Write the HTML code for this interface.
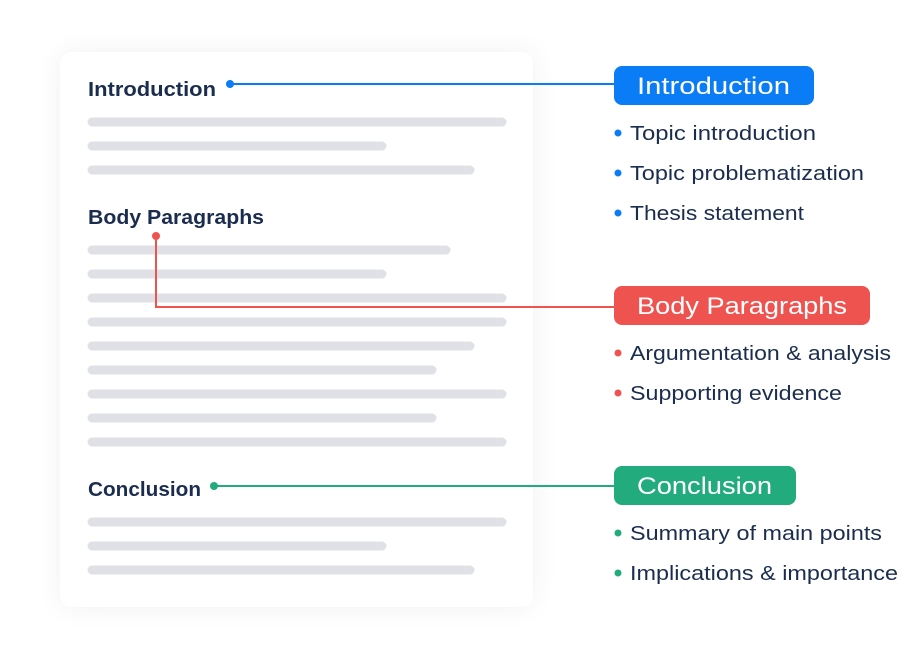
<!DOCTYPE html>
<html><head><style>
html,body{margin:0;padding:0;background:#fff;width:916px;height:656px;overflow:hidden}
svg{display:block}
text{font-family:"Liberation Sans",sans-serif}
</style></head><body>
<svg width="916" height="656" viewBox="0 0 916 656" xmlns="http://www.w3.org/2000/svg">
<defs>
<filter id="sh" x="-20%" y="-20%" width="140%" height="140%">
<feGaussianBlur in="SourceAlpha" stdDeviation="14"/>
<feComponentTransfer><feFuncA type="linear" slope="0.06"/></feComponentTransfer>
<feMerge><feMergeNode/><feMergeNode in="SourceGraphic"/></feMerge>
</filter>
</defs>
<rect x="60" y="52" width="473" height="555" rx="12" fill="#fff" filter="url(#sh)"/>
<g stroke="#dfe1e6" stroke-width="9" stroke-linecap="round">
<line x1="92" y1="122" x2="502" y2="122"/>
<line x1="92" y1="146" x2="382" y2="146"/>
<line x1="92" y1="170" x2="470" y2="170"/>
<line x1="92" y1="250" x2="446" y2="250"/>
<line x1="92" y1="274" x2="382" y2="274"/>
<line x1="92" y1="298" x2="502" y2="298"/>
<line x1="92" y1="322" x2="502" y2="322"/>
<line x1="92" y1="346" x2="470" y2="346"/>
<line x1="92" y1="370" x2="432" y2="370"/>
<line x1="92" y1="394" x2="502" y2="394"/>
<line x1="92" y1="418" x2="432" y2="418"/>
<line x1="92" y1="442" x2="502" y2="442"/>
<line x1="92" y1="522" x2="502" y2="522"/>
<line x1="92" y1="546" x2="382" y2="546"/>
<line x1="92" y1="570" x2="470" y2="570"/>
</g>
<g fill="#1b2d4f" font-size="20" font-weight="bold">
<text x="88" y="96" textLength="128" lengthAdjust="spacingAndGlyphs">Introduction</text>
<text x="88" y="224" textLength="176" lengthAdjust="spacingAndGlyphs">Body Paragraphs</text>
<text x="88" y="496" textLength="113" lengthAdjust="spacingAndGlyphs">Conclusion</text>
</g>
<line x1="230" y1="84" x2="614" y2="84" stroke="#0a7cf5" stroke-width="2"/>
<circle cx="230" cy="84" r="4" fill="#0a7cf5"/>
<polyline points="156,236 156,307 614,307" fill="none" stroke="#ef5350" stroke-width="2"/>
<circle cx="156" cy="236" r="4" fill="#ef5350"/>
<line x1="214" y1="486" x2="614" y2="486" stroke="#22ab7c" stroke-width="2"/>
<circle cx="214" cy="486" r="4" fill="#22ab7c"/>
<rect x="614" y="66" width="200" height="39" rx="8" fill="#0a7cf5"/>
<rect x="614" y="286" width="256" height="39" rx="8" fill="#ef5350"/>
<rect x="614" y="466" width="182" height="39" rx="8" fill="#22ab7c"/>
<g fill="#fff" font-size="24">
<text x="637" y="94" textLength="153" lengthAdjust="spacingAndGlyphs">Introduction</text>
<text x="637" y="314" textLength="210" lengthAdjust="spacingAndGlyphs">Body Paragraphs</text>
<text x="637" y="494" textLength="135" lengthAdjust="spacingAndGlyphs">Conclusion</text>
</g>
<g fill="#0a7cf5"><circle cx="618" cy="133" r="3.5"/><circle cx="618" cy="173" r="3.5"/><circle cx="618" cy="213" r="3.5"/></g>
<g fill="#ef5350"><circle cx="618" cy="353" r="3.5"/><circle cx="618" cy="393" r="3.5"/></g>
<g fill="#22ab7c"><circle cx="618" cy="533" r="3.5"/><circle cx="618" cy="573" r="3.5"/></g>
<g fill="#1b2d4f" font-size="20">
<text x="630" y="140" textLength="186" lengthAdjust="spacingAndGlyphs">Topic introduction</text>
<text x="630" y="180" textLength="234" lengthAdjust="spacingAndGlyphs">Topic problematization</text>
<text x="630" y="220" textLength="174" lengthAdjust="spacingAndGlyphs">Thesis statement</text>
<text x="630" y="360" textLength="261" lengthAdjust="spacingAndGlyphs">Argumentation &amp; analysis</text>
<text x="630" y="400" textLength="212" lengthAdjust="spacingAndGlyphs">Supporting evidence</text>
<text x="630" y="540" textLength="252" lengthAdjust="spacingAndGlyphs">Summary of main points</text>
<text x="630" y="580" textLength="268" lengthAdjust="spacingAndGlyphs">Implications &amp; importance</text>
</g>
</svg>
</body></html>
